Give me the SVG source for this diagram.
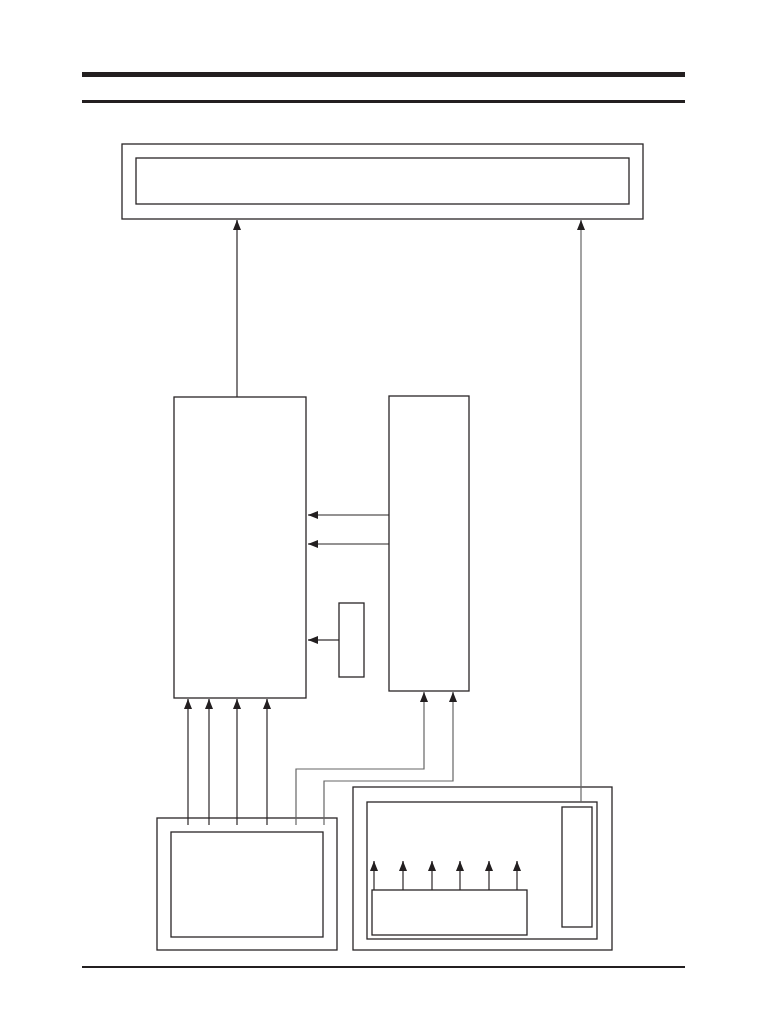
<svg xmlns="http://www.w3.org/2000/svg" width="768" height="1024" viewBox="0 0 768 1024">
<style>
.box{fill:none;stroke:#2a2627;stroke-width:1.3}
.w{stroke:#2a2627;stroke-width:1.2;fill:none}
.g{stroke:#666;stroke-width:1.2;fill:none}
.rule{stroke:#231f20}
</style>
<defs>
<marker id="ah" viewBox="0 0 10 8" refX="10" refY="4" markerWidth="10" markerHeight="8" markerUnits="userSpaceOnUse" orient="auto">
<path d="M0,0 L10,4 L0,8 z" fill="#231f20"/>
</marker>
</defs>
<rect width="768" height="1024" fill="#fff"/>
<line class="rule" x1="82" y1="74.5" x2="685" y2="74.5" stroke-width="5"/>
<line class="rule" x1="82" y1="101.5" x2="685" y2="101.5" stroke-width="3"/>
<line class="rule" x1="82" y1="967" x2="685" y2="967" stroke-width="2"/>

<g id="top-box">
<rect class="box" x="122" y="144" width="521" height="75"/>
<rect class="box" x="136" y="158" width="493" height="46"/>
</g>
<g id="left-block"><rect class="box" x="174" y="397" width="132" height="301"/></g>
<g id="right-block"><rect class="box" x="389" y="396" width="80" height="295"/></g>
<g id="small-box"><rect class="box" x="339" y="603" width="25" height="74"/></g>
<g id="bottom-left">
<rect class="box" x="157" y="818" width="180" height="132"/>
<rect class="box" x="171" y="832" width="152" height="105"/>
</g>
<g id="bottom-right">
<rect class="box" x="353" y="787" width="259" height="163"/>
<rect class="box" x="367" y="802" width="230" height="137"/>
<rect class="box" x="562" y="807" width="30" height="120"/>
<rect class="box" x="372" y="890" width="155" height="45"/>
</g>
<g id="connectors">
<line class="w" x1="237" y1="397" x2="237" y2="220" marker-end="url(#ah)"/>
<line class="g" x1="581" y1="802" x2="581" y2="220" marker-end="url(#ah)"/>
<line class="w" x1="389" y1="515" x2="308" y2="515" marker-end="url(#ah)"/>
<line class="w" x1="389" y1="544" x2="308" y2="544" marker-end="url(#ah)"/>
<line class="w" x1="339" y1="640" x2="308" y2="640" marker-end="url(#ah)"/>
<line class="w" x1="188" y1="825" x2="188" y2="699" marker-end="url(#ah)"/>
<line class="w" x1="209" y1="825" x2="209" y2="699" marker-end="url(#ah)"/>
<line class="w" x1="237" y1="825" x2="237" y2="699" marker-end="url(#ah)"/>
<line class="w" x1="267" y1="825" x2="267" y2="699" marker-end="url(#ah)"/>
<polyline class="g" points="296,825 296,769 424,769 424,692" marker-end="url(#ah)"/>
<polyline class="g" points="324,825 324,781 453,781 453,692" marker-end="url(#ah)"/>
<line class="w" x1="374" y1="890" x2="374" y2="861" marker-end="url(#ah)"/>
<line class="w" x1="403" y1="890" x2="403" y2="861" marker-end="url(#ah)"/>
<line class="w" x1="432" y1="890" x2="432" y2="861" marker-end="url(#ah)"/>
<line class="w" x1="460" y1="890" x2="460" y2="861" marker-end="url(#ah)"/>
<line class="w" x1="489" y1="890" x2="489" y2="861" marker-end="url(#ah)"/>
<line class="w" x1="517" y1="890" x2="517" y2="861" marker-end="url(#ah)"/>
</g>
</svg>
